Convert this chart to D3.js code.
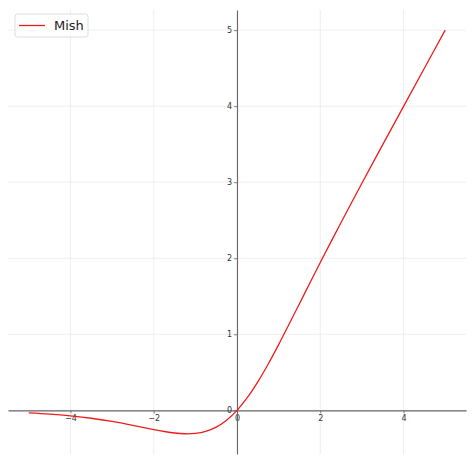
<!DOCTYPE html>
<html lang="en">
<head>
<meta charset="UTF-8">
<title>Mish</title>
<script src="https://d3js.org/d3.v7.min.js"></script>
<style>
  body { margin: 0; background: #fff; }
  svg { display: block; font-family: "DejaVu Sans", sans-serif; }
</style>
</head>
<body>
<svg></svg>
<script>
// values
var xs = [-5, -4.5, -4, -3.5, -3, -2.5, -2, -1.75, -1.5, -1.25, -1, -0.75, -0.5, -0.25,
          0, 0.25, 0.5, 0.75, 1, 1.25, 1.5, 1.75, 2, 2.25, 2.5, 2.75, 3, 3.5, 4, 4.5, 5];
var mish = [-0.034, -0.050, -0.073, -0.104, -0.146, -0.197, -0.253, -0.278, -0.298, -0.308,
            -0.303, -0.277, -0.221, -0.130, 0, 0.170, 0.375, 0.610, 0.865, 1.132, 1.403,
            1.675, 1.944, 2.209, 2.471, 2.730, 2.987, 3.494, 3.997, 4.499, 5.0];
var xTicks = [-4, -2, 0, 2, 4];
var yTicks = [0, 1, 2, 3, 4, 5];
var seriesName = "Mish";

var width = 474, height = 462;
var svg = d3.select("svg").attr("width", width).attr("height", height);

var x = d3.scaleLinear().domain([-5.5, 5.5]).range([8, 466]);
var y = d3.scaleLinear().domain([-0.574, 5.265]).range([454, 10]);

// grid
svg.append("g").selectAll("line").data(xTicks).enter().append("line")
    .attr("x1", function (d) { return x(d); }).attr("x2", function (d) { return x(d); })
    .attr("y1", y.range()[0]).attr("y2", y.range()[1])
    .attr("stroke", "#ebebeb").attr("stroke-width", 0.8);
svg.append("g").selectAll("line").data(yTicks).enter().append("line")
    .attr("y1", function (d) { return y(d); }).attr("y2", function (d) { return y(d); })
    .attr("x1", x.range()[0]).attr("x2", x.range()[1])
    .attr("stroke", "#ebebeb").attr("stroke-width", 0.8);

// axes through the origin
var fmt = d3.format("d");
var xAxis = d3.axisBottom(x).tickValues(xTicks).tickFormat(fmt).tickSize(3).tickPadding(2).tickSizeOuter(0);
var yAxis = d3.axisLeft(y).tickValues(yTicks).tickFormat(fmt).tickSize(3).tickPadding(2).tickSizeOuter(0);

var gx = svg.append("g").attr("transform", "translate(0," + y(0) + ")").call(xAxis);
var gy = svg.append("g").attr("transform", "translate(" + x(0) + ",0)").call(yAxis);
[gx, gy].forEach(function (g) {
    g.select(".domain").attr("stroke", "#666").attr("stroke-width", 1.1);
    g.selectAll(".tick line").attr("stroke", "#666").attr("stroke-width", 0.8);
    g.selectAll(".tick text").attr("fill", "#333").style("font-size", "8px")
        .style("font-family", "DejaVu Sans");
});

// curve
var line = d3.line()
    .x(function (d, i) { return x(xs[i]); })
    .y(function (d) { return y(d); })
    .curve(d3.curveCatmullRom);
svg.append("path").datum(mish)
    .attr("d", line)
    .attr("fill", "none")
    .attr("stroke", "#ee1c1c")
    .attr("stroke-width", 1.3);

// legend
var lg = svg.append("g").attr("transform", "translate(15,14)");
lg.append("rect").attr("width", 73).attr("height", 23).attr("rx", 2.5)
    .attr("fill", "#fff").attr("fill-opacity", 0.8)
    .attr("stroke", "#d6d6d6").attr("stroke-width", 0.8);
lg.append("line").attr("x1", 4).attr("x2", 30).attr("y1", 11.5).attr("y2", 11.5)
    .attr("stroke", "#ee1c1c").attr("stroke-width", 1.3);
lg.append("text").attr("x", 39).attr("y", 16).text(seriesName)
    .style("font-size", "13px").attr("fill", "#222");
</script>
</body>
</html>
